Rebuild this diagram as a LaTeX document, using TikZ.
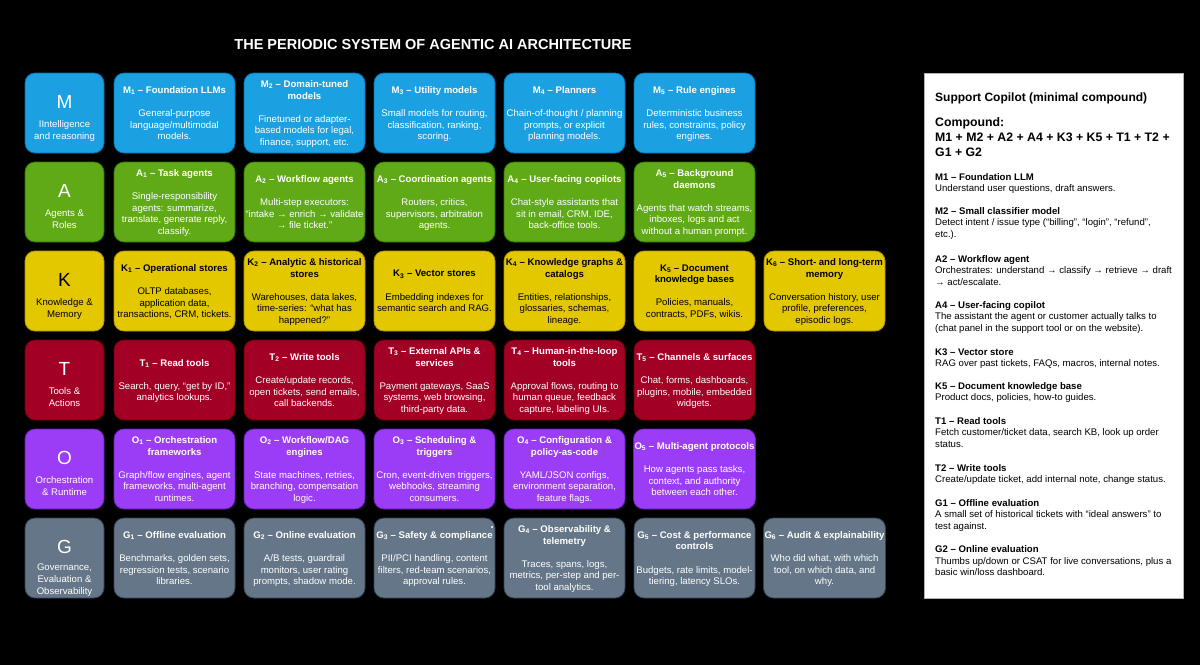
\documentclass[tikz,border=0pt]{standalone}
\usepackage{fontspec}
\setmainfont{Liberation Sans}
\usepackage{xcolor}
\usepackage{tikz}
\usetikzlibrary{positioning}

\definecolor{mfill}{HTML}{1BA1E2}
\definecolor{mline}{HTML}{006EAF}
\definecolor{afill}{HTML}{60A917}
\definecolor{aline}{HTML}{2D7600}
\definecolor{kfill}{HTML}{E3C800}
\definecolor{kline}{HTML}{B09500}
\definecolor{tfill}{HTML}{A20025}
\definecolor{tline}{HTML}{6F0000}
\definecolor{ofill}{HTML}{9B3DF6}
\definecolor{oline}{HTML}{6A1FB8}
\definecolor{gfill}{HTML}{647687}
\definecolor{gline}{HTML}{314354}

\begin{document}
\begin{tikzpicture}[x=1pt,y=-1pt,
  cell/.style={rounded corners=10pt,line width=0.8pt,minimum width=121pt,minimum height=80pt,
    inner sep=1pt,align=center,font=\fontsize{9.6}{11.6}\selectfont,text depth=0pt,
    execute at begin node={\rule{0pt}{10pt}}},
  cat/.style={cell,minimum width=79pt},
  mband/.style={fill=mfill,draw=mline,text=white},
  aband/.style={fill=afill,draw=aline,text=white},
  kband/.style={fill=kfill,draw=kline,text=black},
  tband/.style={fill=tfill,draw=tline,text=white},
  oband/.style={fill=ofill,draw=oline,text=white},
  gband/.style={fill=gfill,draw=gline,text=white},
  item/.style={anchor=base west,inner sep=0pt,align=left,font=\fontsize{9.6}{11.6}\selectfont}]
\fill[black] (0,0) rectangle (1200,665);
\useasboundingbox (0,0) rectangle (1200,665);

\node[text=white,font=\bfseries\fontsize{14.5}{16}\selectfont] (title) at (433,45) {THE PERIODIC SYSTEM OF AGENTIC AI ARCHITECTURE};

% M row
\node[cat,mband] (M) at (64.5,113) {\rule{0pt}{16.6pt}\raisebox{-5pt}{\fontsize{19}{20}\selectfont M}\\[11.5pt]IIntelligence\\and reasoning};
\node[cell,mband] (M1) at (174.5,113) {\textbf{M\textsubscript{1} – Foundation LLMs}\\[11.6pt]General-purpose\\language/multimodal\\models.};
\node[cell,mband] (M2) at (304.5,113) {\textbf{M\textsubscript{2} – Domain-tuned}\\\textbf{models}\\[11.6pt]Finetuned or adapter-\\based models for legal,\\finance, support, etc.};
\node[cell,mband] (M3) at (434.5,113) {\textbf{M\textsubscript{3} – Utility models}\\[11.6pt]Small models for routing,\\classification, ranking,\\scoring.};
\node[cell,mband] (M4) at (564.5,113) {\textbf{M\textsubscript{4} – Planners}\\[11.6pt]Chain-of-thought / planning\\prompts, or explicit\\planning models.};
\node[cell,mband] (M5) at (694.5,113) {\textbf{M\textsubscript{5} – Rule engines}\\[11.6pt]Deterministic business\\rules, constraints, policy\\engines.};

% A row
\node[cat,aband] (A) at (64.5,202) {\rule{0pt}{16.6pt}\raisebox{-5pt}{\fontsize{19}{20}\selectfont A}\\[11.5pt]Agents \&\\Roles};
\node[cell,aband] (A1) at (174.5,202) {\textbf{A\textsubscript{1} – Task agents}\\[11.6pt]Single-responsibility\\agents: summarize,\\translate, generate reply,\\classify.};
\node[cell,aband] (A2) at (304.5,202) {\textbf{A\textsubscript{2} – Workflow agents}\\[11.6pt]Multi-step executors:\\“intake → enrich → validate\\→ file ticket.”};
\node[cell,aband] (A3) at (434.5,202) {\textbf{A\textsubscript{3} – Coordination agents}\\[11.6pt]Routers, critics,\\supervisors, arbitration\\agents.};
\node[cell,aband] (A4) at (564.5,202) {\textbf{A\textsubscript{4} – User-facing copilots}\\[11.6pt]Chat-style assistants that\\sit in email, CRM, IDE,\\back-office tools.};
\node[cell,aband] (A5) at (694.5,202) {\textbf{A\textsubscript{5} – Background}\\\textbf{daemons}\\[11.6pt]Agents that watch streams,\\inboxes, logs and act\\without a human prompt.};

% K row
\node[cat,kband] (K) at (64.5,291) {\rule{0pt}{16.6pt}\raisebox{-5pt}{\fontsize{19}{20}\selectfont K}\\[11.5pt]Knowledge \&\\Memory};
\node[cell,kband] (K1) at (174.5,291) {\textbf{K\textsubscript{1} – Operational stores}\\[11.6pt]OLTP databases,\\application data,\\transactions, CRM, tickets.};
\node[cell,kband] (K2) at (304.5,291) {\textbf{K\textsubscript{2} – Analytic \& historical}\\\textbf{stores}\\[11.6pt]Warehouses, data lakes,\\time-series: “what has\\happened?”};
\node[cell,kband] (K3) at (434.5,291) {\textbf{K\textsubscript{3} – Vector stores}\\[11.6pt]Embedding indexes for\\semantic search and RAG.};
\node[cell,kband] (K4) at (564.5,291) {\textbf{K\textsubscript{4} – Knowledge graphs \&}\\\textbf{catalogs}\\[11.6pt]Entities, relationships,\\glossaries, schemas,\\lineage.};
\node[cell,kband] (K5) at (694.5,291) {\textbf{K\textsubscript{5} – Document}\\\textbf{knowledge bases}\\[11.6pt]Policies, manuals,\\contracts, PDFs, wikis.};
\node[cell,kband] (K6) at (824.5,291) {\textbf{K\textsubscript{6} – Short- and long-term}\\\textbf{memory}\\[11.6pt]Conversation history, user\\profile, preferences,\\episodic logs.};

% T row
\node[cat,tband] (T) at (64.5,380) {\rule{0pt}{16.6pt}\raisebox{-5pt}{\fontsize{19}{20}\selectfont T}\\[11.5pt]Tools \&\\Actions};
\node[cell,tband] (T1) at (174.5,380) {\textbf{T\textsubscript{1} – Read tools}\\[11.6pt]Search, query, “get by ID,”\\analytics lookups.};
\node[cell,tband] (T2) at (304.5,380) {\textbf{T\textsubscript{2} – Write tools}\\[11.6pt]Create/update records,\\open tickets, send emails,\\call backends.};
\node[cell,tband] (T3) at (434.5,380) {\textbf{T\textsubscript{3} – External APIs \&}\\\textbf{services}\\[11.6pt]Payment gateways, SaaS\\systems, web browsing,\\third-party data.};
\node[cell,tband] (T4) at (564.5,380) {\textbf{T\textsubscript{4} – Human-in-the-loop}\\\textbf{tools}\\[11.6pt]Approval flows, routing to\\human queue, feedback\\capture, labeling UIs.};
\node[cell,tband] (T5) at (694.5,380) {\textbf{T\textsubscript{5} – Channels \& surfaces}\\[11.6pt]Chat, forms, dashboards,\\plugins, mobile, embedded\\widgets.};

% O row
\node[cat,oband] (O) at (64.5,469) {\rule{0pt}{16.6pt}\raisebox{-5pt}{\fontsize{19}{20}\selectfont O}\\[11.5pt]Orchestration\\\& Runtime};
\node[cell,oband] (O1) at (174.5,469) {\textbf{O\textsubscript{1} – Orchestration}\\\textbf{frameworks}\\[11.6pt]Graph/flow engines, agent\\frameworks, multi-agent\\runtimes.};
\node[cell,oband] (O2) at (304.5,469) {\textbf{O\textsubscript{2} – Workflow/DAG}\\\textbf{engines}\\[11.6pt]State machines, retries,\\branching, compensation\\logic.};
\node[cell,oband] (O3) at (434.5,469) {\textbf{O\textsubscript{3} – Scheduling \&}\\\textbf{triggers}\\[11.6pt]Cron, event-driven triggers,\\webhooks, streaming\\consumers.};
\node[cell,oband] (O4) at (564.5,469) {\textbf{O\textsubscript{4} – Configuration \&}\\\textbf{policy-as-code}\\[11.6pt]YAML/JSON configs,\\environment separation,\\feature flags.};
\node[cell,oband] (O5) at (694.5,469) {\textbf{O\textsubscript{5} – Multi-agent protocols}\\[11.6pt]How agents pass tasks,\\context, and authority\\between each other.};

% G row
\node[cat,gband] (G) at (64.5,558) {\rule{0pt}{26.6pt}\raisebox{-5pt}{\fontsize{19}{20}\selectfont G}\\[9.5pt]Governance,\\Evaluation \&\\Observability};
\node[cell,gband] (G1) at (174.5,558) {\textbf{G\textsubscript{1} – Offline evaluation}\\[11.6pt]Benchmarks, golden sets,\\regression tests, scenario\\libraries.};
\node[cell,gband] (G2) at (304.5,558) {\textbf{G\textsubscript{2} – Online evaluation}\\[11.6pt]A/B tests, guardrail\\monitors, user rating\\prompts, shadow mode.};
\node[cell,gband] (G3) at (434.5,558) {\textbf{G\textsubscript{3} – Safety \& compliance}\\[11.6pt]PII/PCI handling, content\\filters, red-team scenarios,\\approval rules.};
\node[cell,gband] (G4) at (564.5,558) {\textbf{G\textsubscript{4} – Observability \&}\\\textbf{telemetry}\\[11.6pt]Traces, spans, logs,\\metrics, per-step and per-\\tool analytics.};
\node[cell,gband] (G5) at (694.5,558) {\textbf{G\textsubscript{5} – Cost \& performance}\\\textbf{controls}\\[11.6pt]Budgets, rate limits, model-\\tiering, latency SLOs.};
\node[cell,gband] (G6) at (824.5,558) {\textbf{G\textsubscript{6} – Audit \& explainability}\\[11.6pt]Who did what, with which\\tool, on which data, and\\why.};
\fill[white] (492,527) circle (1.2);

% example compound
\node[draw=gray!60,fill=white,line width=1pt,minimum width=259pt,minimum height=525pt,inner sep=0pt] (copilot) at (1053.5,335.5) {};
\node[item,font=\bfseries\fontsize{12}{14}\selectfont] (cpTitle) at (935,101.5) {Support Copilot (minimal compound)};
\node[item,font=\bfseries\fontsize{12.3}{14.6}\selectfont] (cpCompound) at (935,156) {Compound:\\M1 + M2 + A2 + A4 + K3 + K5 + T1 + T2 +\\G1 + G2};
\node[item] (cpM1) at (935,191.6) {\textbf{M1 – Foundation LLM}\\Understand user questions, draft answers.};
\node[item] (cpM2) at (935,237.2) {\textbf{M2 – Small classifier model}\\Detect intent / issue type (“billing”, “login”, “refund”,\\etc.).};
\node[item] (cpA2) at (935,285.2) {\textbf{A2 – Workflow agent}\\Orchestrates: understand → classify → retrieve → draft\\→ act/escalate.};
\node[item] (cpA4) at (935,331.2) {\textbf{A4 – User-facing copilot}\\The assistant the agent or customer actually talks to\\(chat panel in the support tool or on the website).};
\node[item] (cpK3) at (935,366.6) {\textbf{K3 – Vector store}\\RAG over past tickets, FAQs, macros, internal notes.};
\node[item] (cpK5) at (935,400.9) {\textbf{K5 – Document knowledge base}\\Product docs, policies, how-to guides.};
\node[item] (cpT1) at (935,447.5) {\textbf{T1 – Read tools}\\Fetch customer/ticket data, search KB, look up order\\status.};
\node[item] (cpT2) at (935,482.9) {\textbf{T2 – Write tools}\\Create/update ticket, add internal note, change status.};
\node[item] (cpG1) at (935,529.2) {\textbf{G1 – Offline evaluation}\\A small set of historical tickets with “ideal answers” to\\test against.};
\node[item] (cpG2) at (935,575.9) {\textbf{G2 – Online evaluation}\\Thumbs up/down or CSAT for live conversations, plus a\\basic win/loss dashboard.};
\end{tikzpicture}
\end{document}
